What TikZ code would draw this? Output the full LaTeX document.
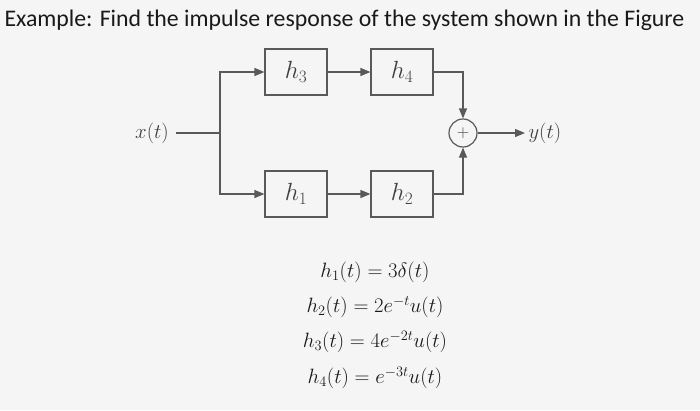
\documentclass[tikz,border=0pt]{standalone}
\usepackage{fontspec}
\newfontfamily\titlefont{Carlito}
\usetikzlibrary{arrows.meta}
\begin{document}
\begin{tikzpicture}[x=1pt,y=-1pt,
  blk/.style={draw=black!65,line width=1.2pt,minimum width=62pt,minimum height=46pt,inner sep=0pt,font=\fontsize{23}{26}\selectfont,text=black!75},
  conn/.style={draw=black!65,line width=1.2pt},
  arr/.style={conn,-{Triangle[length=10pt,width=8pt]}},
  lbl/.style={font=\fontsize{21}{24}\selectfont,text=black!75},
  eq/.style={font=\fontsize{22}{26}\selectfont,text=black!90}]
\fill[black!4] (0,0) rectangle (700,410);
\useasboundingbox (0,0) rectangle (700,410);
\node[anchor=west,font=\titlefont\fontsize{23.8}{26}\selectfont,text=black!90] (title) at (1,20) {Example: Find the impulse response of the system shown in the Figure};
\node[blk] (h3) at (296,72) {$h_3$};
\node[blk] (h4) at (402,72) {$h_4$};
\node[blk] (h1) at (296,194) {$h_1$};
\node[blk] (h2) at (402,194) {$h_2$};
\node[draw=black!65,line width=1.2pt,circle,minimum size=28pt,inner sep=0pt,font=\fontsize{16}{18}\selectfont,text=black!75] (sum) at (463,133) {$+$};
\node[lbl] (x) at (152,133) {$x(t)$};
\node[lbl,anchor=west] (y) at (525,133) {$y(t)$};
\coordinate (sp) at (220,133);
\draw[conn] (x.east) ++(4,0) -- (sp);
\draw[arr] (sp) |- (h3.west);
\draw[arr] (sp) |- (h1.west);
\draw[arr] (h3) -- (h4);
\draw[arr] (h1) -- (h2);
\draw[arr] (h4.east) -| (sum.north);
\draw[arr] (h2.east) -| (sum.south);
\draw[arr] (sum.east) -- (y.west);
\node[eq] (e1) at (375,272) {$h_1(t) = 3\delta(t)$};
\node[eq] (e2) at (375,307) {$h_2(t) = 2e^{-t}u(t)$};
\node[eq] (e3) at (375,342) {$h_3(t) = 4e^{-2t}u(t)$};
\node[eq] (e4) at (375,378) {$h_4(t) = e^{-3t}u(t)$};
\end{tikzpicture}
\end{document}
